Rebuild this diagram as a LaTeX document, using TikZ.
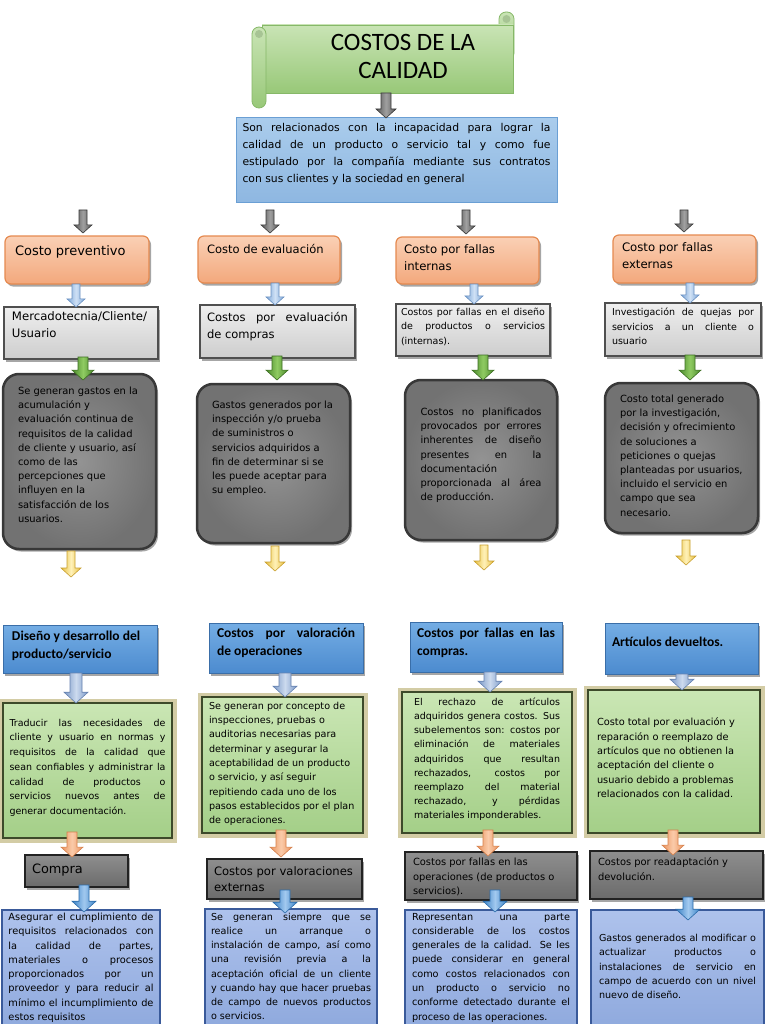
\documentclass[tikz,border=0pt]{standalone}
\usepackage{fontspec}
\setmainfont{DejaVu Sans}
\newfontfamily\carl{Carlito}
\usetikzlibrary{calc,shadows}

\definecolor{grTop}{HTML}{C9E4B5}
\definecolor{grBot}{HTML}{98C878}
\definecolor{grLine}{HTML}{86B868}
\definecolor{descTop}{HTML}{AACCEC}
\definecolor{descBot}{HTML}{8EB7E1}
\definecolor{descLine}{HTML}{6A9FD4}
\definecolor{salTop}{HTML}{FAD0B5}
\definecolor{salBot}{HTML}{F3A87C}
\definecolor{salLine}{HTML}{E58A50}
\definecolor{lgTop}{HTML}{EFEFEF}
\definecolor{lgBot}{HTML}{CDCDCD}
\definecolor{lgLine}{HTML}{4F4F4F}
\definecolor{dgIn}{HTML}{939393}
\definecolor{dgOut}{HTML}{727272}
\definecolor{dgLine}{HTML}{383838}
\definecolor{bTop}{HTML}{74ADE4}
\definecolor{bBot}{HTML}{4C8BCF}
\definecolor{bLine}{HTML}{3A6EA8}
\definecolor{gTop}{HTML}{CAE6B4}
\definecolor{gBot}{HTML}{A4CF88}
\definecolor{gLine}{HTML}{3D4A2A}
\definecolor{gGlow}{HTML}{D3CCA5}
\definecolor{hTop}{HTML}{8E8E8E}
\definecolor{hBot}{HTML}{6B6B6B}
\definecolor{hLine}{HTML}{222222}
\definecolor{lTop}{HTML}{AEC2EC}
\definecolor{lBot}{HTML}{8CA7DC}
\definecolor{lLine}{HTML}{3A5A9A}
\definecolor{aGrayD}{HTML}{565656}
\definecolor{aGrayL}{HTML}{A0A0A0}
\definecolor{aGrayO}{HTML}{3A3A3A}
\definecolor{aLbD}{HTML}{7CA6D8}
\definecolor{aLbL}{HTML}{CFE1F5}
\definecolor{aLbO}{HTML}{6A90C0}
\definecolor{aGrD}{HTML}{4B8A2C}
\definecolor{aGrL}{HTML}{8FCB62}
\definecolor{aGrO}{HTML}{3C6E22}
\definecolor{aYeD}{HTML}{E6BE3E}
\definecolor{aYeL}{HTML}{FFF1B8}
\definecolor{aYeO}{HTML}{C9A030}
\definecolor{aStD}{HTML}{7C9AC8}
\definecolor{aStL}{HTML}{CCDAEE}
\definecolor{aStO}{HTML}{6682B0}
\definecolor{aOrD}{HTML}{E9935E}
\definecolor{aOrL}{HTML}{FBCBAA}
\definecolor{aOrO}{HTML}{D5804C}
\definecolor{aBlD}{HTML}{3A82C6}
\definecolor{aBlL}{HTML}{A2C9EF}
\definecolor{aBlO}{HTML}{2D6CAA}

\newcommand\fs[2]{\fontsize{#1}{#2}\selectfont}
\newcommand\myJ[1]{\makebox[\linewidth][s]{#1}\\}
\newcommand\myR[1]{\mbox{#1}\\}
\newcommand\myE[1]{\mbox{#1}}
% name, style, x, y, w, h, text width, top offset, text
\newcommand\bx[9]{\node[#2,anchor=north west,minimum width=#5pt,minimum height=#6pt,inner sep=0pt,outer sep=0pt] (#1) at (#3,#4) {\parbox[c][#6pt][t]{#7pt}{\vspace*{#8pt}#9}};}
% style, x, from, to, shaft half width, head half width
\newcommand\barr[6]{%
  \path (#2,0) coordinate (ax) #3 coordinate (as) #4 coordinate (ae);
  \path[#1] let \p0=(ax),\p1=(as),\p2=(ae) in
    (\x0-#5pt,\y1) -- (\x0+#5pt,\y1) -- (\x0+#5pt,\y2+0.9*#6pt) -- (\x0+#6pt,\y2+0.9*#6pt)
    -- (\x0,\y2) -- (\x0-#6pt,\y2+0.9*#6pt) -- (\x0-#5pt,\y2+0.9*#6pt) -- cycle;}

\tikzset{
  dshadow/.style={drop shadow={shadow xshift=2pt,shadow yshift=-2.5pt,opacity=0.35,fill=black}},
  scrollS/.style={top color=grTop,bottom color=grBot,draw=grLine,line width=0.8pt},
  descS/.style={top color=descTop,bottom color=descBot,draw=descLine,line width=1pt},
  salS/.style={rounded corners=6pt,top color=salTop,bottom color=salBot,draw=salLine,line width=1.2pt,dshadow},
  lgS/.style={top color=lgTop,bottom color=lgBot,draw=lgLine,line width=2pt,dshadow},
  dgS/.style={rounded corners=16pt,inner color=dgIn,outer color=dgOut,draw=dgLine,line width=2.5pt,dshadow},
  bS/.style={top color=bTop,bottom color=bBot,draw=bLine,line width=1pt,dshadow},
  gS/.style={top color=gTop,bottom color=gBot,draw=gLine,line width=2.5pt,preaction={draw=gGlow,line width=9pt}},
  hS/.style={top color=hTop,bottom color=hBot,draw=hLine,line width=2pt,dshadow},
  lS/.style={top color=lTop,bottom color=lBot,draw=lLine,line width=1.5pt},
  grayA/.style={left color=aGrayD,right color=aGrayD,middle color=aGrayL,draw=aGrayO,line width=0.6pt},
  lblA/.style={left color=aLbD,right color=aLbD,middle color=aLbL,draw=aLbO,line width=0.6pt},
  greenA/.style={left color=aGrD,right color=aGrD,middle color=aGrL,draw=aGrO,line width=0.6pt},
  yelA/.style={left color=aYeD,right color=aYeD,middle color=aYeL,draw=aYeO,line width=0.6pt},
  stA/.style={left color=aStD,right color=aStD,middle color=aStL,draw=aStO,line width=0.6pt},
  orA/.style={left color=aOrD,right color=aOrD,middle color=aOrL,draw=aOrO,line width=0.6pt},
  blA/.style={left color=aBlD,right color=aBlD,middle color=aBlL,draw=aBlO,line width=0.6pt},
}

\begin{document}
\begin{tikzpicture}[x=1pt,y=-1pt]
\useasboundingbox (0,0) rectangle (768,1024);
\clip (0,0) rectangle (768,1024);
\fill[white] (0,0) rectangle (768,1024);

% ---------- title scroll ----------
\path[scrollS,rounded corners=7pt] (499,12) rectangle (514,60);
\bx{title}{scrollS,font=\carl\fs{25}{28}}{262}{25}{251}{68}{251}{9}{\centering\hspace*{31pt}COSTOS DE LA\\\hspace*{31pt}CALIDAD}
\path[scrollS,rounded corners=7pt] (252,27) rectangle (266,108);
\fill[grBot!85!black!70] (506.5,19) circle (4);
\fill[grBot!85!black!70] (259,34) circle (4);

% ---------- description ----------
\bx{desc}{descS,font=\fs{10.8}{17}}{236}{118}{321}{85}{308}{5.5}{%
\myJ{Son relacionados con la incapacidad para lograr la}%
\myJ{calidad de un producto o servicio tal y como fue}%
\myJ{estipulado por la compañía mediante sus contratos}%
\myE{con sus clientes y la sociedad en general}}

% ---------- salmon headers ----------
\bx{s1}{salS,font=\fs{13}{17}}{5}{236}{144}{48}{124}{9.5}{\myE{Costo preventivo}}
\bx{s2}{salS,font=\fs{11.5}{17}}{198}{236}{142}{47}{124}{8}{\myE{Costo de evaluación}}
\bx{s3}{salS,font=\fs{11.7}{17}}{396}{237}{143}{47}{127}{8}{\myR{Costo por fallas}\myE{internas}}
\bx{s4}{salS,font=\fs{11.7}{17}}{613}{235}{143}{48}{125}{8}{\myR{Costo por fallas}\myE{externas}}

% ---------- light grey boxes ----------
\bx{g1}{lgS,font=\fs{11.7}{17}}{4}{307}{154}{52}{138}{5}{\myR{Mercadotecnia/Cliente/}\myE{Usuario}}
\bx{g2}{lgS,font=\fs{11.5}{17}}{200}{305}{155}{53}{141}{7}{\myJ{Costos por evaluación}\myE{de compras}}
\bx{g3}{lgS,font=\fs{9.5}{14.5}}{396}{304}{154}{52}{144}{4}{\myJ{Costos por fallas en el diseño}\myJ{de productos o servicios}\myE{(internas).}}
\bx{g4}{lgS,font=\fs{9.5}{14.5}}{605}{303}{156}{53}{142}{5}{\myJ{Investigación de quejas por}\myJ{servicios a un cliente o}\myE{usuario}}

% ---------- dark grey rounded boxes ----------
\bx{k1}{dgS,font=\fs{9.9}{14.2}}{3}{374}{153}{175}{123}{13}{%
\myR{Se generan gastos en la}\myR{acumulación y}\myR{evaluación continua de}%
\myR{requisitos de la calidad}\myR{de cliente y usuario, así}\myR{como de las}%
\myR{percepciones que}\myR{influyen en la}\myR{satisfacción de los}\myE{usuarios.}}
\bx{k2}{dgS,font=\fs{9.9}{14.2}}{197}{384}{153}{159}{123}{17}{%
\myR{Gastos generados por la}\myR{inspección y/o prueba}\myR{de suministros o}%
\myR{servicios adquiridos a}\myR{fin de determinar si se}\myR{les puede aceptar para}\myE{su empleo.}}
\bx{k3}{dgS,font=\fs{9.9}{14.2}}{405}{380}{152}{160}{121}{28}{%
\myJ{Costos no planificados}\myJ{provocados por errores}\myJ{inherentes de diseño}%
\myJ{presentes en la}\myR{documentación}\myJ{proporcionada al área}\myE{de producción.}}
\bx{k4}{dgS,font=\fs{9.9}{14.2}}{605}{383}{153}{150}{123}{12}{%
\myR{Costo total generado}\myR{por la investigación,}\myR{decisión y ofrecimiento}%
\myR{de soluciones a}\myR{peticiones o quejas}\myR{planteadas por usuarios,}%
\myR{incluido el servicio en}\myR{campo que sea}\myE{necesario.}}

% ---------- blue row-2 headers ----------
\bx{b1}{bS,font=\carl\bfseries\fs{13.5}{18}}{3}{625}{154}{48}{136}{6}{\myR{Diseño y desarrollo del}\myE{producto/servicio}}
\bx{b2}{bS,font=\carl\bfseries\fs{13.5}{18}}{209}{623}{154}{50}{138}{5}{\myJ{Costos por valoración}\myE{de operaciones}}
\bx{b3}{bS,font=\carl\bfseries\fs{13.5}{18}}{410}{622}{152}{50}{138}{6}{\myJ{Costos por fallas en las}\myE{compras.}}
\bx{b4}{bS,font=\carl\bfseries\fs{13.5}{18}}{605}{623}{153}{51}{139}{14}{\myE{Artículos devueltos.}}

% ---------- green boxes ----------
\bx{e1}{gS,font=\fs{9.5}{14.7}}{3}{703}{169}{135}{156}{16}{%
\myJ{Traducir las necesidades de}\myJ{cliente y usuario en normas y}\myJ{requisitos de la calidad que}%
\myJ{sean confiables y administrar la}\myJ{calidad de productos o}\myJ{servicios nuevos antes de}%
\myE{generar documentación.}}
\bx{e2}{gS,font=\fs{9.6}{14.3}}{202}{697}{161}{136}{147}{5}{%
\myR{Se generan por concepto de}\myR{inspecciones, pruebas o}\myR{auditorias necesarias para}%
\myR{determinar y asegurar la}\myR{aceptabilidad de un producto}\myR{o servicio, y así seguir}%
\myR{repitiendo cada uno de los}\myR{pasos establecidos por el plan}\myE{de operaciones.}}
\bx{e3}{gS,font=\fs{9.5}{14.1}}{402}{692}{170}{141}{146}{6}{%
\myJ{El rechazo de artículos}\myJ{adquiridos genera costos. Sus}\myJ{subelementos son: costos por}%
\myJ{eliminación de materiales}\myJ{adquiridos que resultan}\myJ{rechazados, costos por}%
\myJ{reemplazo del material}\myJ{rechazado, y pérdidas}\myE{materiales imponderables.}}
\bx{e4}{gS,font=\fs{9.8}{14.3}}{588}{690}{172}{143}{154}{28}{%
\myR{Costo total por evaluación y}\myR{reparación o reemplazo de}\myR{artículos que no obtienen la}%
\myR{aceptación del cliente o}\myR{usuario debido a problemas}\myE{relacionados con la calidad.}}

% ---------- dark row-3 headers ----------
\bx{h1}{hS,font=\fs{12.9}{17}}{25}{855}{103}{32}{89}{8.5}{\myE{Compra}}
\bx{h2}{hS,font=\fs{11.6}{16}}{207}{859}{155}{40}{141}{8}{\myR{Costos por valoraciones}\myE{externas}}
\bx{h3}{hS,font=\fs{9.9}{14.5}}{405}{852}{172}{48}{156}{6}{\myR{Costos por fallas en las}\myR{operaciones (de productos o}\myE{servicios).}}
\bx{h4}{hS,font=\fs{9.9}{14.5}}{590}{851}{173}{48}{157}{7}{\myR{Costos por readaptación y}\myE{devolución.}}

% ---------- bottom boxes ----------
\bx{l1}{lS,font=\fs{9.8}{14.3}}{2}{910}{158}{130}{145}{3}{%
\myJ{Asegurar el cumplimiento de}\myJ{requisitos relacionados con}\myJ{la calidad de partes,}%
\myJ{materiales o procesos}\myJ{proporcionados por un}\myJ{proveedor y para reducir al}%
\myJ{mínimo el incumplimiento de}\myE{estos requisitos}}
\bx{l2}{lS,font=\fs{9.6}{14.2}}{205}{909}{172}{130}{160}{4}{%
\myJ{Se generan siempre que se}\myJ{realice un arranque o}\myJ{instalación de campo, así como}%
\myJ{una revisión previa a la}\myJ{aceptación oficial de un cliente}\myJ{y cuando hay que hacer pruebas}%
\myJ{de campo de nuevos productos}\myE{o servicios.}}
\bx{l3}{lS,font=\fs{9.7}{14.3}}{405}{910}{172}{130}{158}{3}{%
\myJ{Representan una parte}\myJ{considerable de los costos}\myJ{generales de la calidad. Se les}%
\myJ{puede considerar en general}\myJ{como costos relacionados con}\myJ{un producto o servicio no}%
\myJ{conforme detectado durante el}\myE{proceso de las operaciones.}}
\bx{l4}{lS,font=\fs{9.6}{14.4}}{591}{910}{173}{130}{157}{24}{%
\myJ{Gastos generados al modificar o}\myJ{actualizar productos o}\myJ{instalaciones de servicio en}%
\myJ{campo de acuerdo con un nivel}\myE{nuevo de diseño.}}

% ---------- block arrows ----------
\barr{grayA}{386}{(title.south)}{(desc.north)}{5}{10}
\barr{grayA}{83}{($(desc.south)+(0,7)$)}{($(s1.north)+(0,-3)$)}{4}{9}
\barr{grayA}{270}{($(desc.south)+(0,7)$)}{($(s2.north)+(0,-3)$)}{4}{9}
\barr{grayA}{466}{($(desc.south)+(0,7)$)}{($(s3.north)+(0,-3)$)}{4}{9}
\barr{grayA}{684}{($(desc.south)+(0,7)$)}{($(s4.north)+(0,-3)$)}{4}{9}

\barr{lblA}{76}{(s1.south)}{(g1.north)}{4}{9}
\barr{lblA}{275}{(s2.south)}{(g2.north)}{4}{9}
\barr{lblA}{474}{(s3.south)}{(g3.north)}{4}{9}
\barr{lblA}{690}{(s4.south)}{(g4.north)}{4}{9}

\barr{greenA}{83}{($(g1.south)+(0,-2)$)}{($(k1.north)+(0,6)$)}{5}{11}
\barr{greenA}{277}{($(g2.south)+(0,-2)$)}{($(k2.north)+(0,-4)$)}{5}{11}
\barr{greenA}{483}{($(g3.south)+(0,-1)$)}{(k3.north)}{5}{11}
\barr{greenA}{690}{($(g4.south)+(0,-1)$)}{($(k4.north)+(0,-3)$)}{5}{11}

\coordinate (ye1) at (71,577);
\coordinate (ye2) at (275,571);
\coordinate (ye3) at (484,570);
\coordinate (ye4) at (686,565);
\barr{yelA}{71}{($(k1.south)+(0,2)$)}{(ye1)}{4}{10}
\barr{yelA}{275}{($(k2.south)+(0,3)$)}{(ye2)}{4}{10}
\barr{yelA}{484}{($(k3.south)+(0,5)$)}{(ye3)}{4}{10}
\barr{yelA}{686}{($(k4.south)+(0,7)$)}{(ye4)}{4}{10}

\barr{stA}{76}{(b1.south)}{(e1.north)}{6}{12}
\barr{stA}{285}{(b2.south)}{(e2.north)}{6}{12}
\barr{stA}{490}{(b3.south)}{(e3.north)}{6}{12}
\barr{stA}{682}{(b4.south)}{(e4.north)}{6}{12}

\barr{orA}{72}{($(e1.south)+(0,-6)$)}{($(h1.north)+(0,2)$)}{5}{11}
\barr{orA}{281}{($(e2.south)+(0,-3)$)}{($(h2.north)+(0,-2)$)}{5}{11}
\barr{orA}{488}{($(e3.south)+(0,-3)$)}{($(h3.north)+(0,4)$)}{5}{11}
\barr{orA}{673}{($(e4.south)+(0,-3)$)}{($(h4.north)+(0,4)$)}{5}{11}

\barr{blA}{84}{($(h1.south)+(0,-2)$)}{($(l1.north)+(0,2)$)}{5}{12}
\barr{blA}{285}{($(h2.south)+(0,-9)$)}{($(l2.north)+(0,4)$)}{5}{12}
\barr{blA}{495}{($(h3.south)+(0,-10)$)}{($(l3.north)+(0,2)$)}{5}{12}
\barr{blA}{688}{($(h4.south)+(0,-2)$)}{($(l4.north)+(0,10)$)}{5}{12}
\end{tikzpicture}
\end{document}
